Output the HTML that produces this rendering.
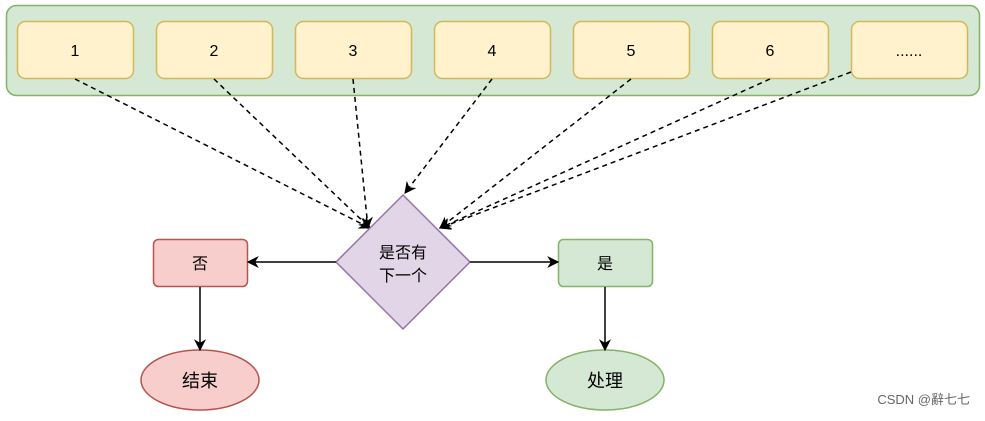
<!DOCTYPE html>
<html><head><meta charset="utf-8"><style>body{margin:0;background:#fff}</style></head><body>
<svg width="985" height="416" viewBox="0 0 985 416" xmlns="http://www.w3.org/2000/svg" font-family="Liberation Sans, Noto Sans CJK SC, sans-serif">
<defs>
<marker id="a" viewBox="0 0 10 10" refX="9" refY="5" markerWidth="8" markerHeight="8" orient="auto" markerUnits="userSpaceOnUse"><path d="M0,0 L10,5 L0,10 L3,5 z" fill="#000"/></marker>
<marker id="b" viewBox="0 0 10 10" refX="9" refY="5" markerWidth="12" markerHeight="12" orient="auto" markerUnits="userSpaceOnUse"><path d="M0,0 L10,5 L0,10 L3,5 z" fill="#000"/></marker>
</defs>
<rect x="6.5" y="5.5" width="973" height="90" rx="10" fill="#d5e8d4" stroke="#82b366" stroke-width="1.5"/>
<g fill="#fff2cc" stroke="#d6b656" stroke-width="1.5">
<rect x="17.5" y="21.5" width="116" height="57" rx="8"/>
<rect x="156.5" y="21.5" width="116" height="57" rx="8"/>
<rect x="295.5" y="21.5" width="116" height="57" rx="8"/>
<rect x="434.5" y="21.5" width="116" height="57" rx="8"/>
<rect x="573.5" y="21.5" width="116" height="57" rx="8"/>
<rect x="712.5" y="21.5" width="116" height="57" rx="8"/>
<rect x="851.5" y="21.5" width="116" height="57" rx="8"/>
</g>
<g font-size="16" text-anchor="middle" fill="#000">
<text x="75" y="56">1</text><text x="214" y="56">2</text><text x="353" y="56">3</text><text x="492" y="56">4</text><text x="631" y="56">5</text><text x="770" y="56">6</text><text x="909" y="56">......</text>
</g>
<g stroke="#000" stroke-width="1.5" stroke-dasharray="5,4" fill="none" marker-end="url(#b)">
<line x1="75" y1="79" x2="370" y2="228"/>
<line x1="214" y1="79" x2="370" y2="228"/>
<line x1="353" y1="79" x2="368" y2="228"/>
<line x1="492" y1="79" x2="405" y2="193"/>
<line x1="631" y1="79" x2="440" y2="228"/>
<line x1="770" y1="79" x2="440" y2="228"/>
<line x1="851" y1="72" x2="440" y2="228"/>
</g>
<polygon points="403,195 470,262 403,329 336,262" fill="#e1d5e7" stroke="#9673a6" stroke-width="1.5"/>
<text x="403" y="258" font-size="16" text-anchor="middle">是否有</text>
<text x="403" y="281" font-size="16" text-anchor="middle">下一个</text>
<rect x="153.5" y="239.5" width="94" height="47" rx="5" fill="#f8cecc" stroke="#b85450" stroke-width="1.5"/>
<text x="200" y="269" font-size="16" text-anchor="middle">否</text>
<rect x="558.5" y="239.5" width="94" height="47" rx="5" fill="#d5e8d4" stroke="#82b366" stroke-width="1.5"/>
<text x="605" y="269" font-size="16" text-anchor="middle">是</text>
<ellipse cx="200" cy="380" rx="59" ry="30" fill="#f8cecc" stroke="#b85450" stroke-width="1.5"/>
<text x="200" y="387" font-size="18" text-anchor="middle">结束</text>
<ellipse cx="605" cy="380" rx="59" ry="30" fill="#d5e8d4" stroke="#82b366" stroke-width="1.5"/>
<text x="605" y="387" font-size="18" text-anchor="middle">处理</text>
<g stroke="#000" stroke-width="1.5" marker-end="url(#b)">
<line x1="336" y1="262" x2="248" y2="262"/>
<line x1="470" y1="262" x2="558" y2="262"/>
<line x1="200" y1="287" x2="200" y2="350"/>
<line x1="605" y1="287" x2="605" y2="350"/>
</g>
<text x="970" y="404" font-size="13" text-anchor="end" fill="#666">CSDN @辭七七</text>
</svg>
</body></html>
